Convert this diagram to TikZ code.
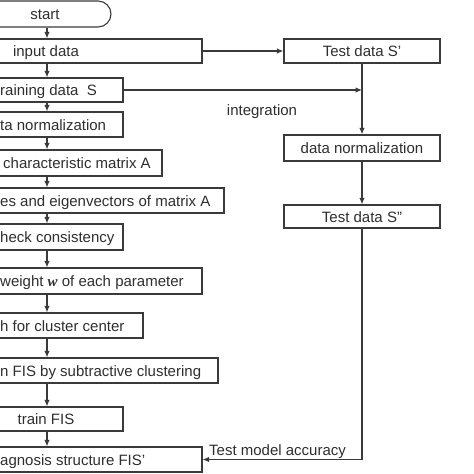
\documentclass[tikz,border=0pt]{standalone}
\usepackage{fontspec}
\setmainfont{Liberation Sans}
\newfontfamily\wfont{Liberation Serif}
\usetikzlibrary{arrows.meta}
\definecolor{linec}{HTML}{3A3A3A}
\definecolor{txtc}{HTML}{2E2E2E}
\begin{document}
\begin{tikzpicture}[x=1pt,y=-1pt,
  font=\fontsize{15}{18}\selectfont,
  box/.style={draw=linec, line width=1.1pt, rectangle, inner sep=0pt},
  txt/.style={text=txtc, text height=11pt, text depth=0pt, inner sep=0pt},
  arr/.style={draw=linec, line width=1.1pt, -{Latex[length=6.5pt,width=5.5pt]}}]
\useasboundingbox (0,0) rectangle (474,474);
\clip (0,0) rectangle (474,474);
% left column boxes
\node[box, rounded corners=13pt, minimum width=171pt, minimum height=26pt] (b0) at (25.5,14) {};
\node[box, minimum width=232pt, minimum height=24pt] (b1) at (86,51) {};
\node[box, minimum width=153pt, minimum height=24pt] (b2) at (46.5,90) {};
\node[box, minimum width=153pt, minimum height=25pt] (b3) at (46.5,124.5) {};
\node[box, minimum width=192pt, minimum height=26pt] (b4) at (66,163) {};
\node[box, minimum width=254pt, minimum height=25pt] (b5) at (97,200.5) {};
\node[box, minimum width=153pt, minimum height=26pt] (b6) at (46.5,237) {};
\node[box, minimum width=232pt, minimum height=26pt] (b7) at (86,281) {};
\node[box, minimum width=173pt, minimum height=25pt] (b8) at (56.5,325.5) {};
\node[box, minimum width=248pt, minimum height=25pt] (b9) at (94,370.5) {};
\node[box, minimum width=153pt, minimum height=24pt] (b10) at (46.5,419) {};
\node[box, minimum width=232pt, minimum height=25pt] (b11) at (86,459.5) {};
% left column texts
\node[txt] (t0) at (45,14) {start};
\node[txt] (t1) at (46,51) {input data};
\node[txt, anchor=west] (t2) at (0,90) {raining data\ \ S};
\node[txt, anchor=west] (t3) at (0,124.5) {ta normalization};
\node[txt, anchor=west] (t4) at (3,163) {characteristic matrix A};
\node[txt, anchor=west] (t5) at (0,200.5) {es and eigenvectors of matrix A};
\node[txt, anchor=west] (t6) at (0,237) {heck consistency};
\node[txt, anchor=west] (t7) at (0,281) {weight {\wfont\bfseries\itshape w} of each parameter};
\node[txt, anchor=west] (t8) at (0,325.5) {h for cluster center};
\node[txt, anchor=west] (t9) at (0,370.5) {n FIS by subtractive clustering};
\node[txt] (t10) at (46,419) {train FIS};
\node[txt, anchor=west] (t11) at (0,459.5) {agnosis structure FIS'};
% right column
\node[box, txt, minimum width=156pt, minimum height=24pt] (r1) at (362,51) {Test data S'};
\node[box, txt, minimum width=156pt, minimum height=26pt] (r2) at (362,148) {data normalization};
\node[box, txt, minimum width=156pt, minimum height=23pt] (r3) at (362,216.5) {Test data S''};
% labels
\node[txt] (lint) at (262,109.5) {integration};
\node[txt, anchor=west] (lacc) at (209,449.5) {Test model accuracy};
% connectors
\coordinate (ax) at (47,0);
\draw[arr] (b0.south -| ax) -- (b1.north -| ax);
\draw[arr] (b1.south -| ax) -- (b2.north -| ax);
\draw[arr] (b2.south -| ax) -- (b3.north -| ax);
\draw[arr] (b3.south -| ax) -- (b4.north -| ax);
\draw[arr] (b4.south -| ax) -- (b5.north -| ax);
\draw[arr] (b5.south -| ax) -- (b6.north -| ax);
\draw[arr] (b6.south -| ax) -- (b7.north -| ax);
\draw[arr] (b7.south -| ax) -- (b8.north -| ax);
\draw[arr] (b8.south -| ax) -- (b9.north -| ax);
\draw[arr] (b9.south -| ax) -- (b10.north -| ax);
\draw[arr] (b10.south -| ax) -- (b11.north -| ax);
\draw[arr] (b1.east) -- (r1.west);
\coordinate (j) at (362,90);
\draw[arr] (b2.east) -- (j);
\draw[arr] (r1.south) -- (r2.north);
\draw[arr] (r2.south) -- (r3.north);
\draw[arr] (r3.south) |- (b11.east);
\end{tikzpicture}
\end{document}
